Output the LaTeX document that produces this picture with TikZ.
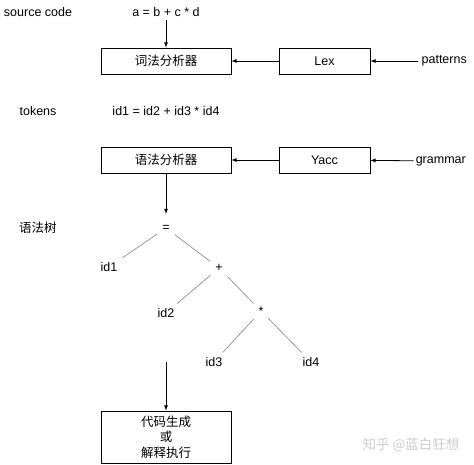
\documentclass[tikz,border=0pt]{standalone}
\usepackage{fontspec}
\setmainfont{Liberation Sans}
\newfontfamily\cjk{Noto Sans CJK SC}
\usetikzlibrary{arrows}

\tikzset{
  stage/.style={draw, line width=0.8pt, minimum width=130pt, minimum height=26pt, inner sep=0pt},
  tool/.style={draw, line width=0.8pt, minimum width=91pt, minimum height=26pt, inner sep=0pt},
  flow/.style={->, >=latex, line width=0.8pt},
  branch/.style={gray, line width=0.6pt, shorten <=1pt, shorten >=1pt},
  leaf/.style={inner sep=4pt}
}

\begin{document}
\begin{tikzpicture}[x=1pt, y=-1pt, font=\fontsize{12.5}{15}\selectfont]
\useasboundingbox (0,0) rectangle (474,464);
% lexical stage
\node (srclabel) at (38,12) {source code};
\node (src) at (166,12) {a = b + c * d};
\node [stage] (lexer) at (166,61) {\cjk 词法分析器};
\node [tool] (lex) at (324.5,61) {Lex};
\node [anchor=east, inner sep=3pt] (patterns) at (470,61) {patterns};
\draw[flow] (src) -- (lexer);
\draw[flow] (lex) -- (lexer);
\draw[flow] (patterns) -- (lex);
% tokens
\node (toklabel) at (38,111) {tokens};
\node (tokens) at (166,111) {id1 = id2 + id3 * id4};
% syntax stage
\node [stage] (parser) at (166,160) {\cjk 语法分析器};
\node [tool] (yacc) at (324.5,160) {Yacc};
\node [anchor=east, inner sep=2pt] (grammar) at (468,161) {grammar};
\draw[flow] (yacc) -- (parser);
\draw[flow] (grammar) -- (yacc);
\coordinate (treetop) at (166,214);
\draw[flow] (parser) -- (treetop);
% syntax tree
\node (treelabel) at (38,228) {\cjk 语法树};
\node [leaf] (eq) at (166,228) {=};
\node [leaf] (id1) at (109,267) {id1};
\node [leaf] (plus) at (219,268) {+};
\node [leaf] (id2) at (166,313) {id2};
\node [leaf] (times) at (261,311) {*};
\node [leaf] (id3) at (214,362) {id3};
\node [leaf] (id4) at (311,362) {id4};
\draw[branch] (eq) -- (id1);
\draw[branch] (eq) -- (plus);
\draw[branch] (plus) -- (id2);
\draw[branch] (plus) -- (times);
\draw[branch] (times) -- (id3);
\draw[branch] (times) -- (id4);
% back end
\coordinate (treeend) at (166,362);
\node [stage, minimum height=52pt, align=center, font=\fontsize{12.5}{15.5}\selectfont\cjk] (backend) at (166,437) {代码生成\\或\\解释执行};
\draw[flow] (treeend) -- (backend);
\node [gray!40, font=\fontsize{13.5}{16}\selectfont\cjk] (mark) at (411,445) {知乎 @蓝白狂想};
\end{tikzpicture}
\end{document}
